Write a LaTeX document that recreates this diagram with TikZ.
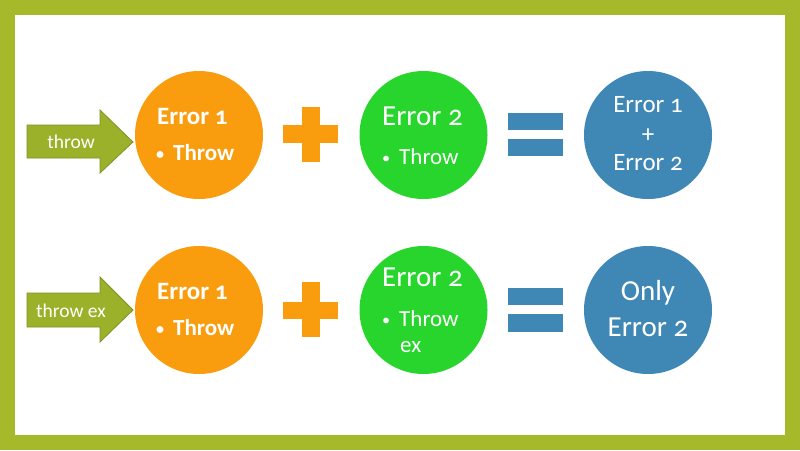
\documentclass[tikz,border=0pt]{standalone}
\usepackage{fontspec}
\setmainfont{Carlito}[Numbers=OldStyle]
\definecolor{frame}{HTML}{A5B92B}
\definecolor{arrowfill}{HTML}{9CB12A}
\definecolor{arrowline}{HTML}{7E9322}
\definecolor{orng}{HTML}{F99C0D}
\definecolor{grn}{HTML}{27D52C}
\definecolor{blu}{HTML}{3F88B6}
\newcommand{\smbul}{\raisebox{0.12ex}{\scalebox{0.7}{•}}}
\tikzset{
  ball/.style={circle, minimum size=128pt, inner sep=0pt},
  txt/.style={text=white, inner sep=0pt},
  arrowshape/.style={fill=arrowfill, draw=arrowline, line width=0.8pt, line join=miter},
}
\begin{document}
\begin{tikzpicture}[x=1pt,y=-1pt]
\useasboundingbox (0,0) rectangle (800,450);
% frame
\fill[frame] (0,0) rectangle (800,450);
\fill[white] (15,15) rectangle (785,435);

% ---------- row 1 ----------
\draw[arrowshape] (27,125) -- (100,125) -- (100,110) -- (133,142) -- (100,173) -- (100,158) -- (27,158) -- cycle;
\node[txt, font=\fontsize{19.5}{22}\selectfont] (a1) at (71,142) {throw};

\node[ball, fill=orng] (o1) at (199,135) {};
\node[txt, anchor=west, font=\fontsize{25}{28}\selectfont\bfseries] (o1t) at (157,116) {Error 1};
\node[txt, anchor=west, font=\fontsize{23}{26}\selectfont\bfseries] (o1b) at (156,153) {\smbul\hspace{9pt}Throw};

\fill[orng] (283,125) rectangle (338,143);
\fill[orng] (302,107) rectangle (320,162);

\node[ball, fill=grn] (g1) at (423.5,135) {};
\node[txt, anchor=west, font=\fontsize{29}{32}\selectfont] (g1t) at (382,116) {Error 2};
\node[txt, anchor=west, font=\fontsize{23}{26}\selectfont] (g1b) at (382,157) {\smbul\hspace{9pt}Throw};

\fill[blu] (508,113) rectangle (563,130);
\fill[blu] (508,139) rectangle (563,156);

\node[ball, fill=blu] (b1) at (648,135) {};
\node[txt, font=\fontsize{25}{28}\selectfont] (b1a) at (648,105) {Error 1};
\node[txt, font=\fontsize{25}{28}\selectfont] (b1p) at (648,136) {+};
\node[txt, font=\fontsize{25}{28}\selectfont] (b1b) at (648,163) {Error 2};

% ---------- row 2 ----------
\draw[arrowshape] (27,293) -- (100,293) -- (100,277) -- (133,310) -- (100,342) -- (100,327) -- (27,327) -- cycle;
\node[txt, font=\fontsize{19.5}{22}\selectfont] (a2) at (71,311) {throw ex};

\node[ball, fill=orng] (o2) at (199,310) {};
\node[txt, anchor=west, font=\fontsize{25}{28}\selectfont\bfseries] (o2t) at (157,291) {Error 1};
\node[txt, anchor=west, font=\fontsize{23}{26}\selectfont\bfseries] (o2b) at (156,328) {\smbul\hspace{9pt}Throw};

\fill[orng] (283,302) rectangle (338,319);
\fill[orng] (302,282) rectangle (320,337);

\node[ball, fill=grn] (g2) at (423.5,310) {};
\node[txt, anchor=west, font=\fontsize{29}{32}\selectfont] (g2t) at (382,277) {Error 2};
\node[txt, anchor=west, font=\fontsize{23}{26}\selectfont] (g2b) at (382,319) {\smbul\hspace{9pt}Throw};
\node[txt, anchor=west, font=\fontsize{23}{26}\selectfont] (g2c) at (400,347) {ex};

\fill[blu] (508,288) rectangle (563,305);
\fill[blu] (508,314) rectangle (563,332);

\node[ball, fill=blu] (b2) at (648,310) {};
\node[txt, font=\fontsize{29}{32}\selectfont] (b2a) at (648,293) {Only};
\node[txt, font=\fontsize{29}{32}\selectfont] (b2b) at (648,327) {Error 2};
\end{tikzpicture}
\end{document}
